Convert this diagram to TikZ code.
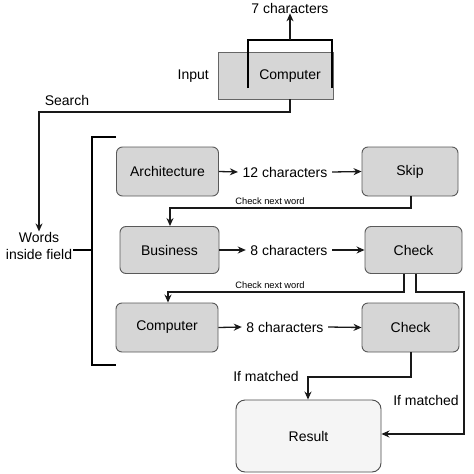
\documentclass[tikz,border=0pt]{standalone}
\usepackage{fontspec}
\setmainfont{Liberation Sans}
\usetikzlibrary{arrows.meta,positioning}
\tikzset{
  every node/.style={font=\fontsize{14}{16}\selectfont},
  procbox/.style={draw=black!65, fill=black!16, rounded corners=6pt, line width=0.9pt, inner sep=0pt},
  resbox/.style={draw=black!70, fill=black!4, rounded corners=9pt, line width=0.9pt, inner sep=0pt},
  inbox/.style={draw=black!60, fill=black!16, line width=0.9pt, inner sep=0pt},
  lbl/.style={inner sep=1pt},
  rowlbl/.style={inner sep=4.5pt},
  small/.style={font=\fontsize{9.3}{11}\selectfont, inner sep=1pt},
  conn/.style={draw=black!90, line width=1.3pt, -{Stealth[length=8pt,width=7pt]}},
  bracketl/.style={draw=black, line width=2.4pt},
}
\begin{document}
\begin{tikzpicture}[x=1pt,y=-1pt]
\useasboundingbox (0,0) rectangle (474,474);
\fill[white] (0,0) rectangle (474,474);

% input box
\node[inbox, minimum width=115pt, minimum height=47pt] (input) at (275.5,75.5) {};
\node[lbl] (comptxt) at (290,76) {Computer};
\node[lbl, anchor=east] (inputlbl) at (210,76) {Input};
\coordinate (bl) at (248,88);
\coordinate (br) at (332,88);
\coordinate (btop) at (290,40);
\draw[bracketl, line cap=butt] (bl) |- (btop) -| (br);
\node[lbl, inner sep=0pt] (seven) at (290,8) {7 characters};
\draw[conn] (btop) -- (seven.south);

% search
\coordinate (s1) at (290,112);
\node[lbl, align=center, font=\fontsize{14}{16.5}\selectfont] (words) at (39,246) {Words\\inside field};
\draw[conn] (input.south -| s1) -- (s1) -| (words.north);
\node[lbl] (search) at (67,100) {Search};

% big bracket
\coordinate (bt) at (116,137);
\coordinate (bb) at (116,365);
\coordinate (bx) at (92,250);
\draw[bracketl] (bt) -- (92,137) -- (92,365) -- (bb);
\draw[bracketl] (words.east |- bx) -- (bx);

% row 1
\node[procbox, minimum width=102pt, minimum height=49pt] (arch) at (167.5,171.5) {Architecture};
\node[procbox, minimum width=96pt, minimum height=49pt] (skip) at (410,171.5) {Skip};
\node[rowlbl] (c12) at (285,172) {12 characters};
\draw[conn] (arch.east) -- (c12.west);
\draw[conn] (c12.east) -- (skip.west);

% row 2
\node[procbox, minimum width=99pt, minimum height=47pt] (bus) at (169.5,250) {Business};
\node[procbox, minimum width=97pt, minimum height=47pt] (check1) at (413.5,250) {Check};
\node[rowlbl] (c8a) at (289,250) {8 characters};
\draw[conn] (bus.east) -- (c8a.west);
\draw[conn] (c8a.east) -- (check1.west);

% check next word 1
\coordinate (n1) at (411,208);
\draw[conn] (skip.south -| n1) -- (n1) -| (bus.north -| 170,0);
\node[small] (cnw1) at (270,201) {Check next word};

% row 3
\node[procbox, minimum width=102pt, minimum height=49pt] (comp) at (167,327.5) {Computer};
\node[procbox, minimum width=97pt, minimum height=49pt] (check2) at (410.5,327.5) {Check};
\node[rowlbl] (c8b) at (285,327) {8 characters};
\draw[conn] (comp.east) -- (c8b.west);
\draw[conn] (c8b.east) -- (check2.west);

% check next word 2
\coordinate (n2) at (404,292);
\draw[conn] (check1.south -| n2) -- (n2) -| (comp.north -| 168,0);
\node[small] (cnw2) at (270,285) {Check next word};

% result
\node[resbox, minimum width=145pt, minimum height=72pt] (res) at (308.5,436) {Result};
\coordinate (m1) at (411,377);
\draw[conn] (check2.south -| m1) -- (m1) -| (res.north -| 308,0);
\node[lbl] (ifm1) at (266,376) {If matched};
\coordinate (m2a) at (416,292);
\coordinate (m2b) at (464,434);
\draw[conn] (check1.south -| m2a) -- (m2a) -| (m2b) -- (res.east |- m2b);
\node[lbl] (ifm2) at (426,400) {If matched};
\end{tikzpicture}
\end{document}
